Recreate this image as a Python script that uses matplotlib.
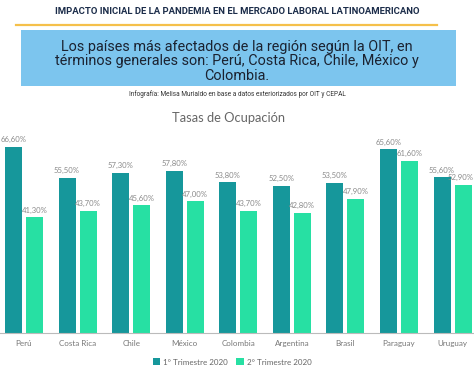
import numpy as np
import matplotlib
matplotlib.use("Agg")
import matplotlib.pyplot as plt
from matplotlib.patches import Rectangle
from matplotlib.lines import Line2D

plt.rcParams['font.family'] = ['Lato', 'DejaVu Sans']

# data
paises = ["Perú", "Costa Rica", "Chile", "México", "Colombia",
          "Argentina", "Brasil", "Paraguay", "Uruguay"]
trim1 = [66.6, 55.5, 57.3, 57.8, 53.8, 52.5, 53.5, 65.6, 55.6]
trim2 = [41.3, 43.7, 45.6, 47.0, 43.7, 42.8, 47.9, 61.6, 52.9]
series = ["1° Trimestre 2020", "2° Trimestre 2020"]

c1 = "#16979b"
c2 = "#27e0a3"
W, H = 474, 368

fig = plt.figure(figsize=(W / 100, H / 100), dpi=100)

def fy(ypx):
    return 1 - ypx / H

# header
fig.text(0.5, fy(11), "IMPACTO INICIAL DE LA PANDEMIA EN EL MERCADO LABORAL LATINOAMERICANO",
         ha="center", va="center", fontsize=6.8, fontweight="bold", color="#1c2d4a",
         family="Roboto")
fig.add_artist(Line2D([16 / W, 437 / W], [fy(24.5), fy(24.5)], color="#f5c04a", lw=1.6))
fig.add_artist(Rectangle((21 / W, fy(86)), (456 - 21) / W, 56 / H,
                         facecolor="#7cc5ee", edgecolor="none"))
fig.text(0.5, fy(61.5), "Los países más afectados de la región según la OIT, en\n"
         "términos generales son: Perú, Costa Rica, Chile, México y\nColombia.",
         ha="center", va="center", fontsize=10.4, color="#1b2230", family="Roboto",
         linespacing=1.0)
fig.text(0.5, fy(94), "Infografía: Melisa Murialdo en base a datos exteriorizados por OIT y CEPAL",
         ha="center", va="center", fontsize=4.7, color="#333333", family="Roboto")
fig.text(229 / W, fy(118), "Tasas de Ocupación", ha="center", va="center",
         fontsize=9.3, color="#666666")

# bars
ax = fig.add_axes([0, fy(333), 1, 203 / H])
x = np.arange(len(paises))
w = 0.317
off = 0.196
xmax = 8.40
b1 = ax.bar(x - off, trim1, w, color=c1, label=series[0])
b2 = ax.bar(x + off, trim2, w, color=c2, label=series[1])
for bars, vals in ((b1, trim1), (b2, trim2)):
    for r, v in zip(bars, vals):
        cx = min(r.get_x() + r.get_width() / 2, xmax - 0.25)
        ax.text(cx, v + 2.6, ("%.2f%%" % v).replace(".", ","),
                ha="center", va="center", fontsize=5.6, color="#8a8a8a")

ax.set_xlim(-0.448, xmax)
ax.set_ylim(0, 72.5)
ax.set_xticks(x)
ax.set_xticklabels(paises, fontsize=5.8, color="#777777")
ax.tick_params(axis="x", length=0, pad=5)
ax.set_yticks([])
for s in ["top", "left", "right"]:
    ax.spines[s].set_visible(False)
ax.spines["bottom"].set_color("#bbbbbb")
ax.spines["bottom"].set_linewidth(0.8)
ax.patch.set_alpha(0)

fig.legend(handles=[b1, b2], labels=series, loc="center", bbox_to_anchor=(0.49, fy(362)),
           ncol=2, frameon=False, fontsize=5.8, handlelength=0.9, handleheight=0.9,
           handletextpad=0.4, columnspacing=1.0, labelcolor="#666666")

fig.savefig("out.png", dpi=100, facecolor="white")
